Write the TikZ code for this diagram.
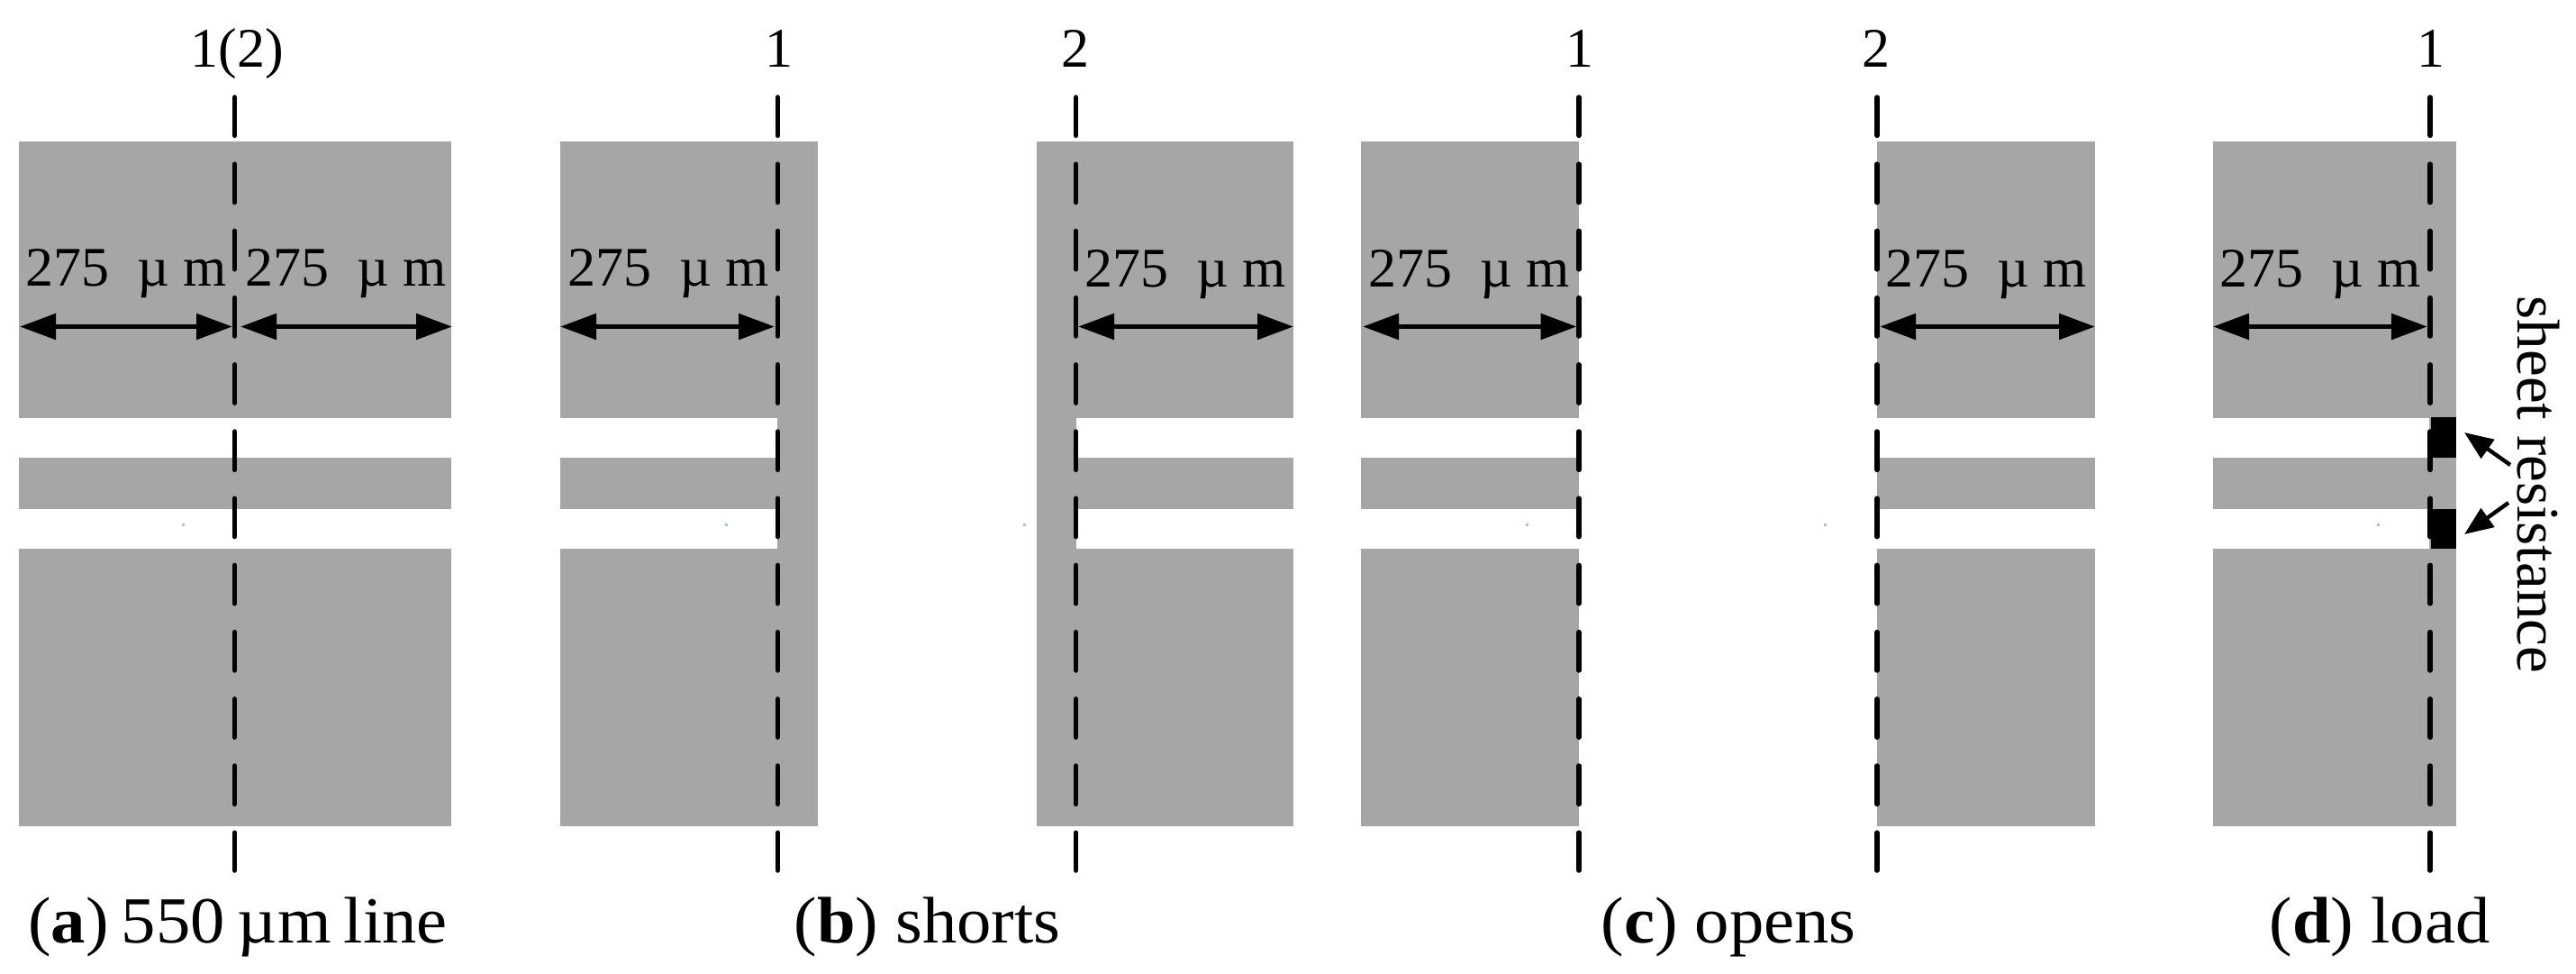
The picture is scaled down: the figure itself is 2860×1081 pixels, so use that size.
\documentclass[tikz,border=0pt]{standalone}
\usepackage{fontspec}
\setmainfont{Liberation Serif}
\newfontfamily\capfamily[FakeStretch=1.05]{Liberation Serif}
\usetikzlibrary{arrows.meta}
\newcommand{\dimfont}{\fontsize{31}{36}\selectfont}
\newcommand{\capfont}{\capfamily\fontsize{36.5}{42}\selectfont}
\newcommand{\dimtext}{275~~µ~m}
\tikzset{
  x=0.5pt,y=-0.5pt,
  metal/.style={fill=metalgray,draw=none},
  cutline/.style={draw=black,line width=2.75pt,line cap=round,dash pattern=on 21.2pt off 15.9pt},
  dimarrow/.style={draw=black,line width=2.75pt,{Triangle[length=20pt,width=14pt]}-{Triangle[length=20pt,width=14pt]},shorten >=0pt,shorten <=0pt},
  pointer/.style={draw=black,line width=2.2pt,-{Triangle[length=16pt,width=12.5pt]}},
  dimlabel/.style={anchor=base,inner sep=0pt,font=\dimfont},
  toplabel/.style={anchor=base,inner sep=0pt,font=\dimfont},
  caplabel/.style={anchor=base,inner sep=0pt,font=\capfont},
  speck/.style={fill=speckblue,draw=none},
  loadblock/.style={fill=black,draw=none}
}
\definecolor{metalgray}{HTML}{A6A6A6}
\definecolor{speckblue}{HTML}{A9BDE6}
\newcommand{\stripset}[2]{%
  \fill[metal] (#1,157) rectangle (#2,464);
  \fill[metal] (#1,508) rectangle (#2,565);
  \fill[metal] (#1,609) rectangle (#2,917);
}
\newcommand{\cut}[2]{%
  \coordinate (#1t) at (#2,108);
  \coordinate (#1b) at (#2,966);
  \draw[cutline] (#1t) -- (#1b);
}
\newcommand{\dimline}[3]{%
  \coordinate (#1l) at (#2,362.5);
  \coordinate (#1r) at (#3,362.5);
  \draw[dimarrow] (#1l) -- (#1r);
}
\begin{document}
\begin{tikzpicture}
\useasboundingbox (0,0) rectangle (2860,1081);
% panels
\stripset{21}{501}
\stripset{622}{864}
\fill[metal] (863,157) rectangle (908,917);
\stripset{1194}{1436}
\fill[metal] (1151,157) rectangle (1195,917);
\stripset{1511}{1753}
\stripset{2084}{2326}
\stripset{2457}{2698}
\fill[metal] (2697,157) rectangle (2727,917);
% specks
\foreach \sx in {203,806,1137,1695,2026,2640}
  \fill[speck] (\sx-1.5,580.5) rectangle (\sx+1.5,583.5);
% loads
\fill[loadblock] (2699,463) rectangle (2727,508);
\fill[loadblock] (2699,565) rectangle (2727,609);
% dimension arrows
\dimline{a1}{22}{258}
\dimline{a2}{267}{502}
\dimline{b1}{622}{860}
\dimline{b2}{1197}{1436}
\dimline{c1}{1513}{1750.5}
\dimline{c2}{2087}{2326}
\dimline{d1}{2457}{2695}
% cut lines
\cut{A}{260.5}
\cut{B}{863.5}
\cut{C}{1194.5}
\cut{D}{1753}
\cut{E}{2084}
\cut{F}{2698}
% dimension texts
\node[dimlabel] (ta1) at (140,317) {\dimtext};
\node[dimlabel] (ta2) at (384,317) {\dimtext};
\node[dimlabel] (tb1) at (742,317) {\dimtext};
\node[dimlabel] (tb2) at (1316,318) {\dimtext};
\node[dimlabel] (tc1) at (1631,318) {\dimtext};
\node[dimlabel] (tc2) at (2205,318) {\dimtext};
\node[dimlabel] (td1) at (2576,318) {\dimtext};
% top labels
\node[toplabel] (la) at (263,75) {1(2)};
\node[toplabel] (lb) at (865,75) {1};
\node[toplabel] (lc) at (1194,75) {2};
\node[toplabel] (ld) at (1754,75) {1};
\node[toplabel] (le) at (2083,75) {2};
\node[toplabel] (lf) at (2699,75) {1};
% captions
\node[caplabel] (ca) at (264,1046) {(\textbf{a})\hspace{-2.5pt} 550\hspace{-2.5pt} µm\hspace{-2.5pt} line};
\node[caplabel] (cb) at (1029.5,1046) {(\textbf{b}) shorts};
\node[caplabel] (cc) at (1919,1046) {(\textbf{c}) opens};
\node[caplabel] (cd) at (2642,1046) {(\textbf{d}) load};
% sheet resistance
\node[anchor=base,inner sep=0pt,rotate=-90,font=\fontsize{33.5}{38}\selectfont] (sr) at (2795,538) {sheet resistance};
\coordinate (p1s) at (2787,516);
\coordinate (p1e) at (2736,480);
\coordinate (p2s) at (2785,558);
\coordinate (p2e) at (2736,593);
\draw[pointer] (p1s) -- (p1e);
\draw[pointer] (p2s) -- (p2e);
\end{tikzpicture}
\end{document}
